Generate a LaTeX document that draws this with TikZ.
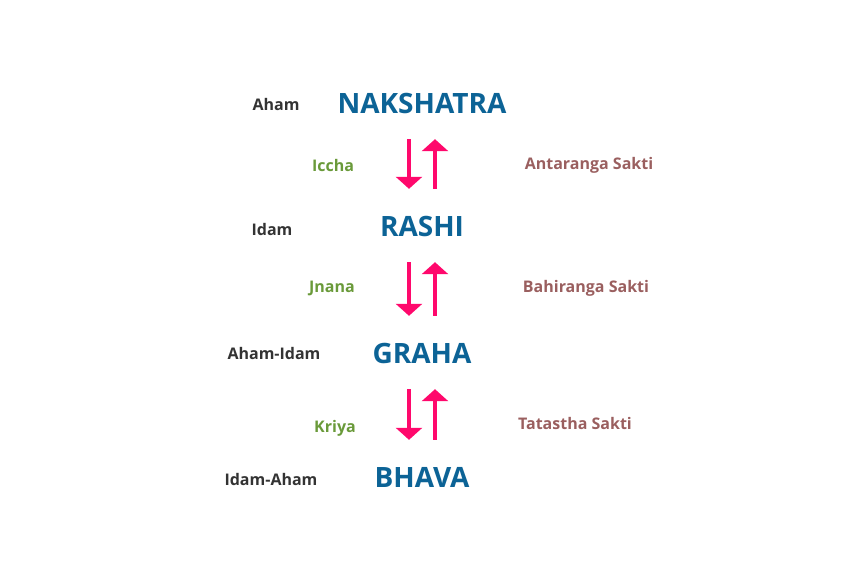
\documentclass[tikz,border=0pt]{standalone}
\usepackage{fontspec}
\setmainfont{Open Sans}
\usetikzlibrary{arrows.meta}
\definecolor{stageblue}{RGB}{12,99,150}
\definecolor{arrowpink}{RGB}{255,8,108}
\definecolor{shaktigreen}{RGB}{106,154,58}
\definecolor{saktibrown}{RGB}{154,95,95}
\definecolor{labelgray}{RGB}{51,51,51}
\tikzset{
  stage/.style={font=\fontsize{28}{28}\selectfont\bfseries,text=stageblue,
    inner sep=0pt,text height=21pt,text depth=0pt,anchor=base},
  side/.style={font=\fontsize{16}{16}\selectfont\bfseries,text=labelgray,anchor=base},
  power/.style={font=\fontsize{16}{16}\selectfont\bfseries,text=shaktigreen,anchor=base},
  sakti/.style={font=\fontsize{16}{16}\selectfont\bfseries,text=saktibrown,anchor=base},
  flow/.style={arrowpink,line width=4.5pt,-{Triangle[width=26pt,length=12pt]},
    shorten <=26pt,shorten >=26pt}
}
\begin{document}
\begin{tikzpicture}[x=1pt,y=-1pt]
\useasboundingbox (0,0) rectangle (864,576);
% stages
\node[stage] (nak) at (422,113) {NAKSHATRA};
\node[stage] (rashi) at (422,236) {RASHI};
\node[stage] (graha) at (422,363) {GRAHA};
\node[stage] (bhava) at (422,487) {BHAVA};
% left labels
\node[side] (aham) at (276,110) {Aham};
\node[side] (idam) at (272,235) {Idam};
\node[side] (ahamidam) at (274,359) {Aham-Idam};
\node[side] (idamaham) at (271,485) {Idam-Aham};
% powers
\node[power] (iccha) at (333,171) {Iccha};
\node[power] (jnana) at (332,292) {Jnana};
\node[power] (kriya) at (335,432) {Kriya};
% saktis
\node[sakti] (antar) at (589,169) {Antaranga Sakti};
\node[sakti] (bahir) at (586,292) {Bahiranga Sakti};
\node[sakti] (tata) at (575,429) {Tatastha Sakti};
% arrows
\draw[flow] ([xshift=-13pt]nak.south) -- ([xshift=-13pt]rashi.north);
\draw[flow] ([xshift=13pt]rashi.north) -- ([xshift=13pt]nak.south);
\draw[flow] ([xshift=-13pt]rashi.south) -- ([xshift=-13pt]graha.north);
\draw[flow] ([xshift=13pt]graha.north) -- ([xshift=13pt]rashi.south);
\draw[flow] ([xshift=-13pt]graha.south) -- ([xshift=-13pt]bhava.north);
\draw[flow] ([xshift=13pt]bhava.north) -- ([xshift=13pt]graha.south);
\end{tikzpicture}
\end{document}
